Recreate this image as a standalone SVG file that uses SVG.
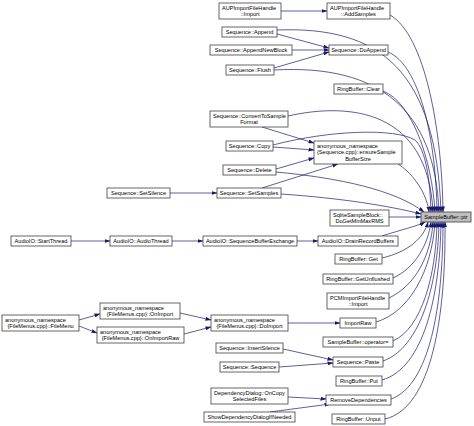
<svg xmlns="http://www.w3.org/2000/svg" width="474" height="426" viewBox="0 0 474 426">
<style>
.n rect{fill:#fff;stroke:#404040;stroke-width:0.8}
.n.tg rect{fill:#bfbfbf;stroke:#404040}
text{font-family:"Liberation Sans",Arial,sans-serif;font-size:5.6px;fill:#000}
.c{text-anchor:middle}
#edges path{fill:none;stroke:#191970;stroke-width:0.7;marker-end:url(#a)}
</style>
<defs>
<marker id="a" markerWidth="6" markerHeight="4" refX="5.5" refY="2" orient="auto" markerUnits="userSpaceOnUse"><path d="M0,0 L6,2 L0,4 z" fill="#191970"/></marker>
</defs>
<rect width="474" height="426" fill="#fff"/>
<g id="edges">
<path d="M281,11 L327,11"/>
<path d="M390,15 C425,35 442,130 443,212"/>
<path d="M277,34 L329,48"/>
<path d="M277,30 C380,26 436,70 441,212"/>
<path d="M292,50 L329,50"/>
<path d="M274,68 L329,52"/>
<path d="M274,70 C380,64 435,110 439,212"/>
<path d="M388,52 C420,65 436,140 437,212"/>
<path d="M383,91 C412,102 432,160 435,212"/>
<path d="M262,127 L314,143"/>
<path d="M288,116 C350,102 428,110 433,212"/>
<path d="M273,147 L314,150"/>
<path d="M273,145 C330,130 395,128 415,140 C426,150 430,180 431,212"/>
<path d="M276,169 L314,158"/>
<path d="M276,172 C340,178 395,190 424,212"/>
<path d="M170,193 L217,193"/>
<path d="M262,188 L338,164"/>
<path d="M281,194 C340,198 390,206 421,214"/>
<path d="M398,164 C415,175 427,195 429,212"/>
<path d="M389,217 L421,217"/>
<path d="M71,241 L110,241"/>
<path d="M172,241 L203,241"/>
<path d="M297,241 L318,241"/>
<path d="M382,236 C400,230 418,226 425,222"/>
<path d="M382,258 C408,252 424,238 428,222"/>
<path d="M393,278 C415,268 428,245 431,222"/>
<path d="M389,298 C416,285 431,255 433,222"/>
<path d="M79,320 L100,314"/>
<path d="M79,326 L97,333"/>
<path d="M180,313 L211,320"/>
<path d="M184,334 L211,327"/>
<path d="M288,323 L340,323"/>
<path d="M376,322 C410,312 432,270 435,222"/>
<path d="M393,341 C422,328 436,275 437,222"/>
<path d="M283,349 L333,360"/>
<path d="M279,367 L333,363"/>
<path d="M383,361 C420,348 438,285 439,222"/>
<path d="M382,380 C424,368 440,295 441,222"/>
<path d="M288,397 L326,399"/>
<path d="M270,412 L330,404"/>
<path d="M391,399 C430,385 443,305 443,222"/>
<path d="M385,419 C432,408 446,315 445,222"/>
</g>
<g id="n1" class="n"><rect x="219" y="3" width="62" height="16"/><text x="222" y="9.5">AUPImportFileHandle</text><text class="c" x="250" y="16">::Import</text></g>
<g id="n2" class="n"><rect x="327" y="3" width="63" height="16"/><text x="330" y="9.5">AUPImportFileHandle</text><text class="c" x="358.5" y="16">::AddSamples</text></g>
<g id="n3" class="n"><rect x="222" y="27" width="55" height="10"/><text class="c" x="249.5" y="34">Sequence::Append</text></g>
<g id="n4" class="n"><rect x="210" y="45" width="82" height="10"/><text class="c" x="251" y="52">Sequence::AppendNewBlock</text></g>
<g id="n5" class="n"><rect x="329" y="45" width="59" height="10"/><text class="c" x="358.5" y="52">Sequence::DoAppend</text></g>
<g id="n6" class="n"><rect x="226" y="65" width="48" height="10"/><text class="c" x="250" y="72">Sequence::Flush</text></g>
<g id="n7" class="n"><rect x="334" y="84" width="49" height="10"/><text class="c" x="358.5" y="91">RingBuffer::Clear</text></g>
<g id="n8" class="n"><rect x="210" y="111" width="78" height="16"/><text x="213" y="117.5">Sequence::ConvertToSample</text><text class="c" x="249" y="124">Format</text></g>
<g id="n9" class="n"><rect x="314" y="141" width="88" height="23"/><text x="317" y="147.5">anonymous_namespace</text><text x="317" y="154">{Sequence.cpp}::ensureSample</text><text class="c" x="358" y="160.5">BufferSize</text></g>
<g id="n10" class="n"><rect x="226" y="141" width="47" height="10"/><text class="c" x="249.5" y="148">Sequence::Copy</text></g>
<g id="n11" class="n"><rect x="223" y="165" width="53" height="10"/><text class="c" x="249.5" y="172">Sequence::Delete</text></g>
<g id="n12" class="n"><rect x="107" y="188" width="63" height="10"/><text class="c" x="138.5" y="195">Sequence::SetSilence</text></g>
<g id="n13" class="n"><rect x="217" y="188" width="64" height="10"/><text class="c" x="249" y="195">Sequence::SetSamples</text></g>
<g id="n14" class="n"><rect x="330" y="210" width="59" height="16"/><text x="333" y="216.5">SqliteSampleBlock::</text><text class="c" x="359.5" y="223">DoGetMinMaxRMS</text></g>
<g id="n15" class="n tg"><rect x="421" y="212" width="50" height="10"/><text class="c" x="446" y="219">SampleBuffer::ptr</text></g>
<g id="n16" class="n"><rect x="11" y="236" width="60" height="10"/><text class="c" x="41" y="243">AudioIO::StartThread</text></g>
<g id="n17" class="n"><rect x="110" y="236" width="62" height="10"/><text class="c" x="141" y="243">AudioIO::AudioThread</text></g>
<g id="n18" class="n"><rect x="203" y="236" width="94" height="10"/><text class="c" x="250" y="243">AudioIO::SequenceBufferExchange</text></g>
<g id="n19" class="n"><rect x="318" y="236" width="80" height="10"/><text class="c" x="358" y="243">AudioIO::DrainRecordBuffers</text></g>
<g id="n20" class="n"><rect x="335" y="254" width="47" height="10"/><text class="c" x="358.5" y="261">RingBuffer::Get</text></g>
<g id="n21" class="n"><rect x="323" y="274" width="70" height="10"/><text class="c" x="358" y="281">RingBuffer::GetUnflushed</text></g>
<g id="n22" class="n"><rect x="327" y="293" width="62" height="16"/><text x="330" y="299.5">PCMImportFileHandle</text><text class="c" x="358" y="306">::Import</text></g>
<g id="n23" class="n"><rect x="2" y="315" width="77" height="16"/><text x="5" y="321.5">anonymous_namespace</text><text class="c" x="40.5" y="328">{FileMenus.cpp}::FileMenu</text></g>
<g id="n24" class="n"><rect x="100" y="303" width="80" height="16"/><text x="103" y="309.5">anonymous_namespace</text><text class="c" x="140" y="316">{FileMenus.cpp}::OnImport</text></g>
<g id="n25" class="n"><rect x="97" y="327" width="87" height="16"/><text x="100" y="333.5">anonymous_namespace</text><text class="c" x="140.5" y="340">{FileMenus.cpp}::OnImportRaw</text></g>
<g id="n26" class="n"><rect x="211" y="315" width="77" height="16"/><text x="214" y="321.5">anonymous_namespace</text><text class="c" x="249.5" y="328">{FileMenus.cpp}::DoImport</text></g>
<g id="n27" class="n"><rect x="340" y="318" width="36" height="10"/><text class="c" x="358" y="325">ImportRaw</text></g>
<g id="n28" class="n"><rect x="323" y="337" width="70" height="10"/><text class="c" x="358" y="344">SampleBuffer::operator=</text></g>
<g id="n29" class="n"><rect x="216" y="343" width="67" height="10"/><text class="c" x="249.5" y="350">Sequence::InsertSilence</text></g>
<g id="n30" class="n"><rect x="220" y="362" width="59" height="10"/><text class="c" x="249.5" y="369">Sequence::Sequence</text></g>
<g id="n31" class="n"><rect x="333" y="357" width="50" height="10"/><text class="c" x="358" y="364">Sequence::Paste</text></g>
<g id="n32" class="n"><rect x="336" y="376" width="46" height="10"/><text class="c" x="359" y="383">RingBuffer::Put</text></g>
<g id="n33" class="n"><rect x="211" y="388" width="77" height="16"/><text x="214" y="394.5">DependencyDialog::OnCopy</text><text class="c" x="249.5" y="401">SelectedFiles</text></g>
<g id="n34" class="n"><rect x="326" y="395" width="65" height="10"/><text class="c" x="358.5" y="402">RemoveDependencies</text></g>
<g id="n35" class="n"><rect x="204" y="412" width="91" height="10"/><text class="c" x="249.5" y="419">ShowDependencyDialogIfNeeded</text></g>
<g id="n36" class="n"><rect x="332" y="414" width="53" height="10"/><text class="c" x="358.5" y="421">RingBuffer::Unput</text></g>
</svg>
